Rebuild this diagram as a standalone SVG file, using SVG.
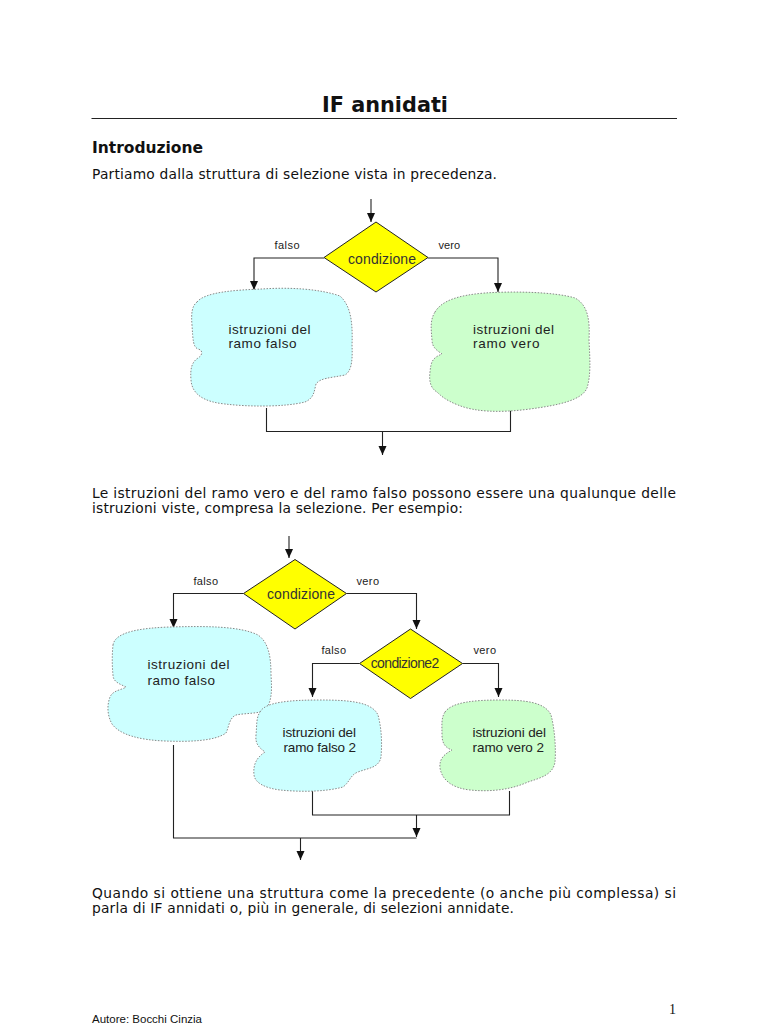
<svg xmlns="http://www.w3.org/2000/svg" width="768" height="1024" viewBox="0 0 768 1024">
<style>
.body{font-family:"DejaVu Sans",Verdana,sans-serif;font-size:13.8px;fill:#111}
.h{font-family:"DejaVu Sans",Verdana,sans-serif;font-weight:bold;fill:#111}
.lbl{font-family:"Liberation Sans",Arial,sans-serif;font-size:11px;fill:#222}
.node{font-family:"Liberation Sans",Arial,sans-serif;font-size:13.5px;fill:#222}
.cond{font-family:"Liberation Sans",Arial,sans-serif;font-size:14px;fill:#333}
.cloudF{fill:#CCFFFF;stroke:#888;stroke-width:1;stroke-dasharray:1.5 1.5}
.cloudV{fill:#CCFFCC;stroke:#888;stroke-width:1;stroke-dasharray:1.5 1.5}
.dia{fill:#FFFF00;stroke:#222;stroke-width:1}
.ln{fill:none;stroke:#222;stroke-width:1.1}
.arr{fill:none;stroke:#222;stroke-width:1.1;marker-end:url(#ah)}
</style>
<defs>
<marker id="ah" markerUnits="userSpaceOnUse" markerWidth="10" markerHeight="10" refX="9" refY="4" orient="auto">
<path d="M0,0 L9,4 L0,8 Z" fill="#111"/>
</marker>
</defs>
<rect width="768" height="1024" fill="#fff"/>

<!-- page text -->
<text class="h" x="322" y="112" font-size="21" textLength="126" lengthAdjust="spacingAndGlyphs">IF annidati</text>
<line x1="91.5" y1="118.5" x2="677" y2="118.5" stroke="#222" stroke-width="1.2"/>
<text class="h" x="92" y="153" font-size="15.5" textLength="111" lengthAdjust="spacing">Introduzione</text>
<text class="body" x="92" y="178.5" textLength="405" lengthAdjust="spacing">Partiamo dalla struttura di selezione vista in precedenza.</text>
<text class="body" x="92" y="497.5" textLength="584" lengthAdjust="spacing">Le istruzioni del ramo vero e del ramo falso possono essere una qualunque delle</text>
<text class="body" x="92" y="513" textLength="371" lengthAdjust="spacing">istruzioni viste, compresa la selezione. Per esempio:</text>
<text class="body" x="92" y="897.5" textLength="584" lengthAdjust="spacing">Quando si ottiene una struttura come la precedente (o anche più complessa) si</text>
<text class="body" x="92" y="913" textLength="422" lengthAdjust="spacing">parla di IF annidati o, più in generale, di selezioni annidate.</text>
<text x="669" y="1014" font-family="'Liberation Serif','Times New Roman',serif" font-size="14" fill="#111">1</text>
<text x="92" y="1022.5" font-family="'Liberation Sans',Arial,sans-serif" font-size="11.5" fill="#111" textLength="110" lengthAdjust="spacing">Autore: Bocchi Cinzia</text>

<!-- diagram 1 connectors -->
<g id="connectors1">
<line class="arr" x1="371" y1="199" x2="371" y2="222"/>
<polyline class="arr" points="324,258 254,258 254,290"/>
<polyline class="arr" points="428,258 498,258 498,292"/>
<polyline class="ln" points="266.5,408 266.5,431.5 510.5,431.5 510.5,410"/>
<line class="arr" x1="382.5" y1="431.5" x2="382.5" y2="455"/>
</g>
<g id="d1-cond">
<polygon class="dia" points="324,257.5 376,222 428,257.5 376,292"/>
<text class="cond" x="382" y="264" text-anchor="middle" textLength="68" lengthAdjust="spacing">condizione</text>
</g>
<g id="d1-labels">
<text class="lbl" x="274.5" y="249" textLength="25" lengthAdjust="spacing">falso</text>
<text class="lbl" x="438.5" y="249" textLength="21.5" lengthAdjust="spacing">vero</text>
</g>
<g id="d1-falso">
<path class="cloudF" d="M197,302 C205,292 235,290 262,289 C290,287 320,289 340,296 C350,305 353,320 352,345 C353,365 350,372 345,375 C330,378 320,378 316,384 C314,392 314,398 305,402 C285,407 250,407 225,404 C205,402 192,395 191,380 C190,368 192,362 198,358 C203,355 203,350 198,349 C193,347 193,340 192,325 C191,313 192,306 197,302 Z"/>
<text class="node" x="228.5" y="333.5" textLength="82" lengthAdjust="spacing">istruzioni del</text>
<text class="node" x="228.5" y="348" textLength="68" lengthAdjust="spacing">ramo falso</text>
</g>
<g id="d1-vero">
<path class="cloudV" d="M435,312 C442,300 460,295 485,293 C515,291 555,292 575,298 C588,305 590,320 589,340 C590,360 591,375 587,388 C582,400 560,405 530,409 C500,413 475,412 458,405 C445,400 440,395 437,392 C430,388 429,380 430,372 C431,362 432,358 442,354 C438,351 432,348 432,340 C431,328 430,320 435,312 Z"/>
<text class="node" x="473" y="333.5" textLength="81" lengthAdjust="spacing">istruzioni del</text>
<text class="node" x="473" y="348" textLength="66.5" lengthAdjust="spacing">ramo vero</text>
</g>

<!-- diagram 2 connectors -->
<g id="connectors2">
<line class="arr" x1="289" y1="536" x2="289" y2="558"/>
<polyline class="arr" points="243.5,593.5 173.5,593.5 173.5,628"/>
<polyline class="arr" points="346.5,593.5 416.5,593.5 416.5,629"/>
<polyline class="arr" points="359.5,663.5 312.5,663.5 312.5,697"/>
<polyline class="arr" points="462.5,663.5 498.5,663.5 498.5,697"/>
<polyline class="ln" points="312.5,791 312.5,815 509.5,815 509.5,791"/>
<line class="arr" x1="416.5" y1="815" x2="416.5" y2="837"/>
<polyline class="ln" points="173.5,745 173.5,838 416.5,838"/>
<line class="arr" x1="300.5" y1="838" x2="300.5" y2="860"/>
</g>
<g id="d2-cond">
<polygon class="dia" points="243.5,593.5 295,559.5 346.5,593.5 295,629"/>
<text class="cond" x="301" y="599" text-anchor="middle" textLength="68" lengthAdjust="spacing">condizione</text>
</g>
<g id="d2-cond2">
<polygon class="dia" points="359.5,663.5 410.5,629 462.5,663.5 410.5,698.5"/>
<text class="cond" x="405" y="667.5" text-anchor="middle" font-size="12.5" textLength="68.5" lengthAdjust="spacing">condizione2</text>
</g>
<g id="d2-labels">
<text class="lbl" x="193.5" y="584.5" textLength="24.5" lengthAdjust="spacing">falso</text>
<text class="lbl" x="356.5" y="584.5" textLength="22.5" lengthAdjust="spacing">vero</text>
<text class="lbl" x="321.5" y="654" textLength="24.5" lengthAdjust="spacing">falso</text>
<text class="lbl" x="473.5" y="654" textLength="22.5" lengthAdjust="spacing">vero</text>
</g>
<g id="d2-falso">
<path class="cloudF" d="M113,645 C115,632 140,628 170,627 C205,626 240,626 258,635 C268,642 271,655 271,675 C272,690 272,700 266,710 C258,714 245,713 236,715 C229,718 229,727 226,733 C215,741 190,742 165,741 C140,740 120,735 112,724 C107,715 107,705 110,697 C113,690 122,690 126,687 C120,684 113,682 113,675 C112,665 112,655 113,645 Z"/>
<text class="node" x="147.5" y="669" textLength="82" lengthAdjust="spacing">istruzioni del</text>
<text class="node" x="147.5" y="684.5" textLength="67.5" lengthAdjust="spacing">ramo falso</text>
</g>
<g id="d2-falso2">
<path class="cloudF" d="M260,712 C265,702 290,700 320,700 C350,700 372,702 378,715 C382,730 382,745 381,757 C379,768 368,768 358,772 C350,775 350,782 343,787 C325,792 300,792 280,790 C265,788 255,783 254,775 C253,765 256,758 265,752 C260,748 255,745 256,735 C257,725 256,718 260,712 Z"/>
<text class="node" x="282.5" y="737" font-size="12.5" textLength="73.5" lengthAdjust="spacing">istruzioni del</text>
<text class="node" x="283.5" y="752" font-size="12.5" textLength="72.5" lengthAdjust="spacing">ramo falso 2</text>
</g>
<g id="d2-vero2">
<path class="cloudV" d="M445,712 C452,702 475,700 500,700 C525,700 545,702 551,715 C555,730 556,750 555,762 C553,775 540,778 528,782 C510,790 490,792 470,790 C452,788 442,780 440,768 C439,758 445,754 452,750 C446,748 442,744 442,735 C442,725 441,718 445,712 Z"/>
<text class="node" x="472.5" y="737" font-size="12.5" textLength="73.5" lengthAdjust="spacing">istruzioni del</text>
<text class="node" x="472.5" y="752" font-size="12.5" textLength="71.5" lengthAdjust="spacing">ramo vero 2</text>
</g>
</svg>
